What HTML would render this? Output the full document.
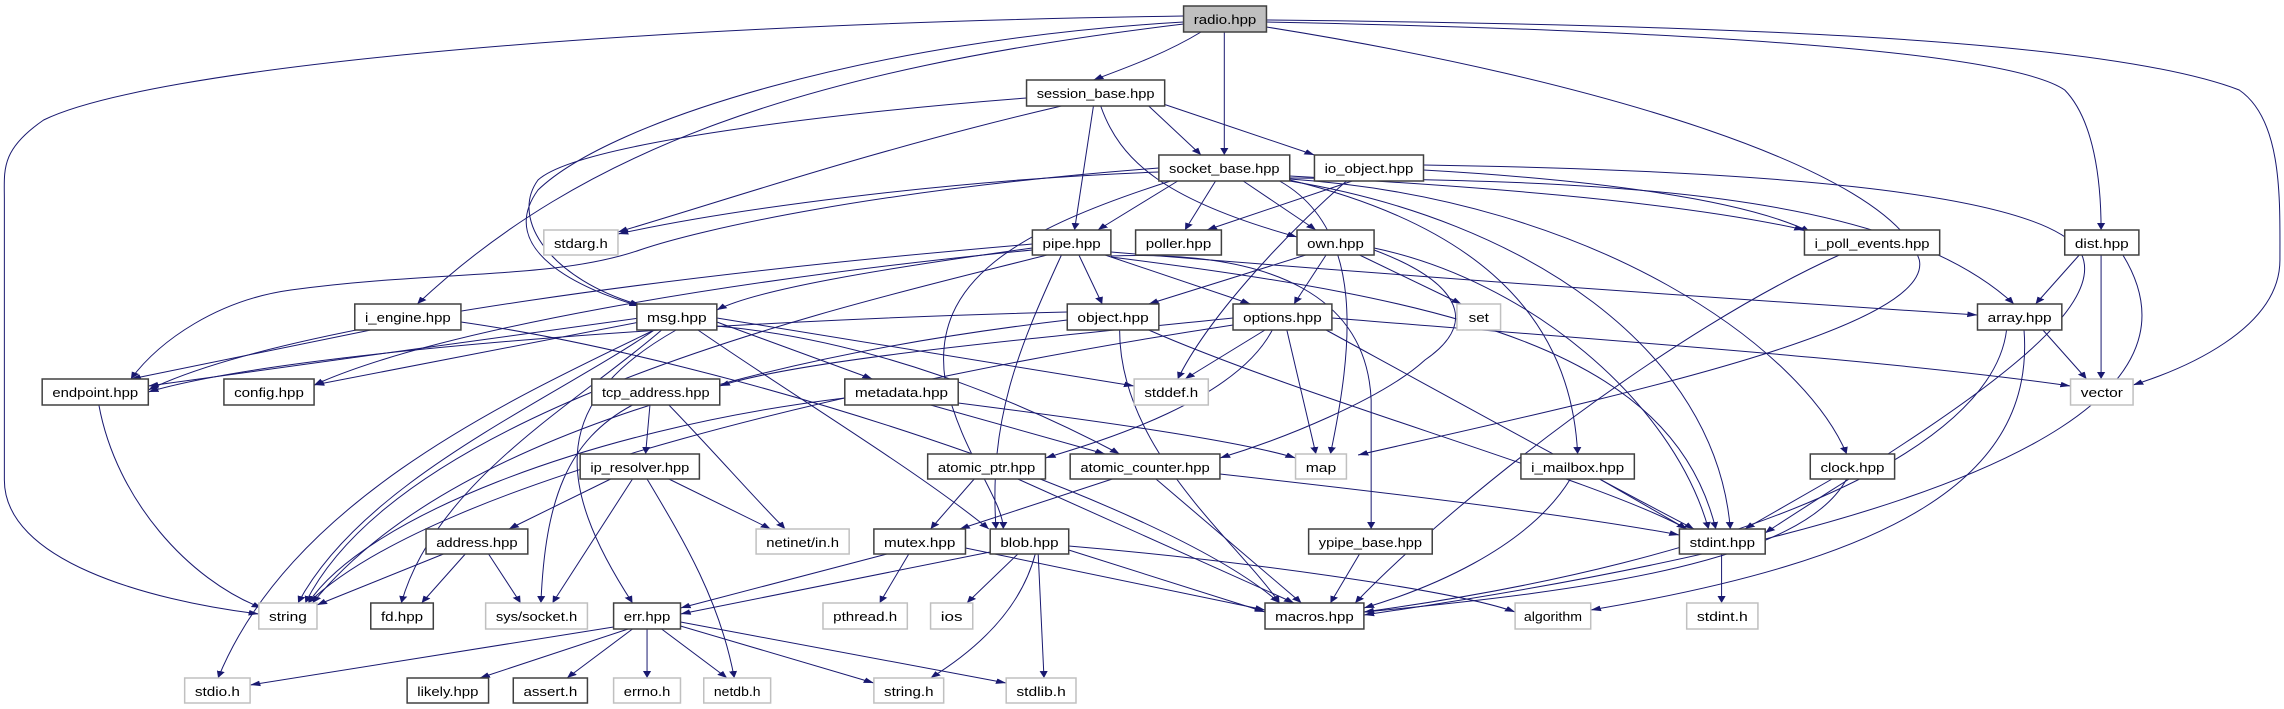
<!DOCTYPE html>
<html><head><meta charset="utf-8"><style>
html,body{margin:0;padding:0;background:#fff;}
svg{display:block;}
text{font-family:"Liberation Sans",sans-serif;font-size:13px;fill:#000;}
.e{fill:none;stroke:#191970;stroke-width:1;vector-effect:non-scaling-stroke;marker-end:url(#a);}
.n{fill:#fff;stroke:#404040;stroke-width:1.5;vector-effect:non-scaling-stroke;}
.g{fill:#fff;stroke:#c0c0c0;stroke-width:1.5;vector-effect:non-scaling-stroke;}
</style></head><body>
<svg width="2284" height="709" viewBox="0 0 1570.8 709" preserveAspectRatio="none" xmlns="http://www.w3.org/2000/svg">
<defs><marker id="a" viewBox="0 0 10 8" refX="10" refY="4" markerWidth="7" markerHeight="8" markerUnits="userSpaceOnUse" orient="auto"><path d="M0,0 L10,4 L0,8 z" fill="#191970"/></marker></defs>
<g>
<path class="e" d="M826,32 C800,55 770,70 752,80"/>
<path class="e" d="M842,32 L842,155"/>
<path class="e" d="M871,22 C1150,30 1380,50 1420,90 C1440,120 1445,180 1445,230"/>
<path class="e" d="M871,20 C1200,25 1450,40 1540,90 C1570,120 1568,200 1568,260 C1568,330 1500,370 1467,385"/>
<path class="e" d="M871,27 C1100,80 1300,170 1320,260 C1330,330 1100,400 934,455"/>
<path class="e" d="M814,22 C600,40 420,120 370,190 C340,250 400,290 440,306"/>
<path class="e" d="M814,24 C550,70 400,150 287,304"/>
<path class="e" d="M814,16 C400,25 100,70 30,120 C0,150 3,170 3,200 L3,480 C3,560 100,600 178,614"/>
<path class="e" d="M790,106 L826,155"/>
<path class="e" d="M800,104 L904,155"/>
<path class="e" d="M752,106 L739,230"/>
<path class="e" d="M757,106 C770,160 800,200 892,237"/>
<path class="e" d="M730,106 C600,150 500,200 425,232"/>
<path class="e" d="M706,98 C600,110 400,140 370,180 C350,220 380,280 440,305"/>
<path class="e" d="M810,181 L755,230"/>
<path class="e" d="M836,181 L815,230"/>
<path class="e" d="M855,181 L905,230"/>
<path class="e" d="M887,176 C1000,185 1150,200 1241,230"/>
<path class="e" d="M887,178 C1100,180 1300,190 1385,304"/>
<path class="e" d="M797,172 C650,180 500,210 425,234"/>
<path class="e" d="M797,168 C600,190 480,230 440,250 C380,280 300,270 200,290 C150,300 110,340 90,379"/>
<path class="e" d="M805,181 C700,230 640,280 650,380 C660,450 690,500 690,529"/>
<path class="e" d="M880,181 C940,230 930,350 915,454"/>
<path class="e" d="M887,180 C1000,220 1080,300 1085,454"/>
<path class="e" d="M887,179 C1100,200 1240,350 1270,454"/>
<path class="e" d="M887,181 C1050,220 1180,350 1190,529"/>
<path class="e" d="M930,181 L830,230"/>
<path class="e" d="M979,170 C1100,180 1200,200 1245,232"/>
<path class="e" d="M926,181 C880,240 830,320 810,379"/>
<path class="e" d="M979,165 C1200,170 1400,190 1430,250 C1460,320 1300,450 1214,533"/>
<path class="e" d="M742,255 L758,304"/>
<path class="e" d="M760,255 L860,304"/>
<path class="e" d="M710,248 C600,270 520,290 493,310"/>
<path class="e" d="M764,252 C1000,280 1200,300 1360,315"/>
<path class="e" d="M764,256 C880,250 940,300 943,400 L943,529"/>
<path class="e" d="M730,255 C700,350 680,420 685,529"/>
<path class="e" d="M764,257 C1000,300 1150,350 1180,529"/>
<path class="e" d="M710,244 C500,270 200,320 102,390"/>
<path class="e" d="M710,250 C500,280 300,330 216,385"/>
<path class="e" d="M720,255 C600,300 280,400 210,603"/>
<path class="e" d="M898,255 L790,304"/>
<path class="e" d="M912,255 L890,304"/>
<path class="e" d="M935,255 L1005,304"/>
<path class="e" d="M945,250 C1000,280 1020,320 980,360 C950,400 880,440 839,458"/>
<path class="e" d="M945,248 C1050,280 1150,400 1175,529"/>
<path class="e" d="M1265,255 C1150,330 1000,500 932,603"/>
<path class="e" d="M1430,255 L1400,304"/>
<path class="e" d="M1445,255 L1445,379"/>
<path class="e" d="M1460,255 C1500,350 1480,500 938,615"/>
<path class="e" d="M1405,330 L1435,379"/>
<path class="e" d="M1380,330 C1370,450 1200,560 938,612"/>
<path class="e" d="M1392,330 C1400,480 1300,560 1094,610"/>
<path class="e" d="M255,330 L90,379"/>
<path class="e" d="M317,322 C500,360 800,500 880,603"/>
<path class="e" d="M440,322 L216,385"/>
<path class="e" d="M440,318 L102,386"/>
<path class="e" d="M493,322 L600,379"/>
<path class="e" d="M493,326 C600,340 700,400 770,454"/>
<path class="e" d="M493,318 L780,386"/>
<path class="e" d="M450,330 C380,400 250,480 205,603"/>
<path class="e" d="M455,330 C400,400 300,480 276,603"/>
<path class="e" d="M465,330 C380,400 380,480 435,603"/>
<path class="e" d="M450,330 C350,400 200,500 150,678"/>
<path class="e" d="M480,330 C550,400 630,470 680,529"/>
<path class="e" d="M734,312 C500,320 200,350 102,392"/>
<path class="e" d="M734,320 C500,360 300,450 215,603"/>
<path class="e" d="M790,330 C900,400 1100,480 1160,529"/>
<path class="e" d="M770,330 C770,450 850,540 880,603"/>
<path class="e" d="M848,318 C700,340 550,360 495,386"/>
<path class="e" d="M870,330 L815,379"/>
<path class="e" d="M885,330 L905,454"/>
<path class="e" d="M875,330 C850,400 760,440 719,458"/>
<path class="e" d="M916,318 C1100,340 1300,360 1424,386"/>
<path class="e" d="M912,330 C1000,400 1100,480 1165,529"/>
<path class="e" d="M848,325 C600,380 300,480 212,603"/>
<path class="e" d="M68,405 C80,500 130,580 180,608"/>
<path class="e" d="M447,405 L444,454"/>
<path class="e" d="M435,405 C390,440 375,500 372,603"/>
<path class="e" d="M460,405 C490,450 520,500 540,529"/>
<path class="e" d="M581,398 C400,430 250,520 212,603"/>
<path class="e" d="M659,403 C750,420 850,440 891,458"/>
<path class="e" d="M640,405 L760,454"/>
<path class="e" d="M420,479 L350,529"/>
<path class="e" d="M435,479 L380,603"/>
<path class="e" d="M460,479 L530,529"/>
<path class="e" d="M445,479 C470,540 495,600 505,678"/>
<path class="e" d="M305,554 L218,605"/>
<path class="e" d="M320,554 L290,603"/>
<path class="e" d="M336,554 L358,603"/>
<path class="e" d="M670,479 L640,529"/>
<path class="e" d="M700,479 L890,603"/>
<path class="e" d="M765,479 L660,529"/>
<path class="e" d="M795,479 L895,603"/>
<path class="e" d="M839,474 C1000,500 1100,520 1155,535"/>
<path class="e" d="M1100,479 L1160,529"/>
<path class="e" d="M1080,479 C1050,550 980,590 938,608"/>
<path class="e" d="M1260,479 L1200,529"/>
<path class="e" d="M1270,479 C1240,560 1100,590 938,612"/>
<path class="e" d="M610,554 L468,608"/>
<path class="e" d="M625,554 L605,603"/>
<path class="e" d="M664,548 L870,610"/>
<path class="e" d="M681,552 L468,614"/>
<path class="e" d="M700,554 L665,603"/>
<path class="e" d="M712,554 C700,620 660,660 640,678"/>
<path class="e" d="M714,554 L718,678"/>
<path class="e" d="M735,550 L870,612"/>
<path class="e" d="M735,546 C850,560 1000,590 1042,612"/>
<path class="e" d="M935,554 L915,603"/>
<path class="e" d="M1184,554 L1184,603"/>
<path class="e" d="M422,627 L172,685"/>
<path class="e" d="M432,629 L330,678"/>
<path class="e" d="M435,629 L390,678"/>
<path class="e" d="M445,629 L445,678"/>
<path class="e" d="M455,629 L500,678"/>
<path class="e" d="M468,626 L601,683"/>
<path class="e" d="M468,622 L692,683"/>
</g>
<g>
<rect x="814" y="6" width="57" height="26" style="fill:#bfbfbf;stroke:#404040;stroke-width:1.5" vector-effect="non-scaling-stroke"/><text x="842.5" y="24" text-anchor="middle" textLength="43" lengthAdjust="spacingAndGlyphs">radio.hpp</text>
<rect class="n" x="706" y="80" width="95" height="26"/><text x="753.5" y="98" text-anchor="middle" textLength="81" lengthAdjust="spacingAndGlyphs">session_base.hpp</text>
<rect class="n" x="797" y="155" width="90" height="26"/><text x="842" y="173" text-anchor="middle" textLength="76" lengthAdjust="spacingAndGlyphs">socket_base.hpp</text>
<rect class="n" x="904" y="155" width="75" height="26"/><text x="941.5" y="173" text-anchor="middle" textLength="61" lengthAdjust="spacingAndGlyphs">io_object.hpp</text>
<rect class="n" x="710" y="230" width="54" height="25"/><text x="737" y="248" text-anchor="middle" textLength="40" lengthAdjust="spacingAndGlyphs">pipe.hpp</text>
<rect class="n" x="781" y="230" width="59" height="25"/><text x="810.5" y="248" text-anchor="middle" textLength="45" lengthAdjust="spacingAndGlyphs">poller.hpp</text>
<rect class="n" x="892" y="230" width="53" height="25"/><text x="918.5" y="248" text-anchor="middle" textLength="39" lengthAdjust="spacingAndGlyphs">own.hpp</text>
<rect class="n" x="1241" y="230" width="93" height="25"/><text x="1287.5" y="248" text-anchor="middle" textLength="79" lengthAdjust="spacingAndGlyphs">i_poll_events.hpp</text>
<rect class="n" x="1420" y="230" width="51" height="25"/><text x="1445.5" y="248" text-anchor="middle" textLength="37" lengthAdjust="spacingAndGlyphs">dist.hpp</text>
<rect class="g" x="374" y="230" width="51" height="25"/><text x="399.5" y="248" text-anchor="middle" textLength="37" lengthAdjust="spacingAndGlyphs">stdarg.h</text>
<rect class="n" x="244" y="304" width="73" height="26"/><text x="280.5" y="322" text-anchor="middle" textLength="59" lengthAdjust="spacingAndGlyphs">i_engine.hpp</text>
<rect class="n" x="438" y="304" width="55" height="26"/><text x="465.5" y="322" text-anchor="middle" textLength="41" lengthAdjust="spacingAndGlyphs">msg.hpp</text>
<rect class="n" x="734" y="304" width="63" height="26"/><text x="765.5" y="322" text-anchor="middle" textLength="49" lengthAdjust="spacingAndGlyphs">object.hpp</text>
<rect class="n" x="848" y="304" width="68" height="26"/><text x="882" y="322" text-anchor="middle" textLength="54" lengthAdjust="spacingAndGlyphs">options.hpp</text>
<rect class="g" x="1002" y="304" width="30" height="26"/><text x="1017" y="322" text-anchor="middle" textLength="14" lengthAdjust="spacingAndGlyphs">set</text>
<rect class="n" x="1360" y="304" width="58" height="26"/><text x="1389" y="322" text-anchor="middle" textLength="44" lengthAdjust="spacingAndGlyphs">array.hpp</text>
<rect class="n" x="29" y="379" width="73" height="26"/><text x="65.5" y="397" text-anchor="middle" textLength="59" lengthAdjust="spacingAndGlyphs">endpoint.hpp</text>
<rect class="n" x="154" y="379" width="62" height="26"/><text x="185" y="397" text-anchor="middle" textLength="48" lengthAdjust="spacingAndGlyphs">config.hpp</text>
<rect class="n" x="407" y="379" width="88" height="26"/><text x="451" y="397" text-anchor="middle" textLength="74" lengthAdjust="spacingAndGlyphs">tcp_address.hpp</text>
<rect class="n" x="581" y="379" width="78" height="26"/><text x="620" y="397" text-anchor="middle" textLength="64" lengthAdjust="spacingAndGlyphs">metadata.hpp</text>
<rect class="g" x="780" y="379" width="51" height="26"/><text x="805.5" y="397" text-anchor="middle" textLength="37" lengthAdjust="spacingAndGlyphs">stddef.h</text>
<rect class="g" x="1424" y="379" width="43" height="26"/><text x="1445.5" y="397" text-anchor="middle" textLength="29" lengthAdjust="spacingAndGlyphs">vector</text>
<rect class="n" x="399" y="454" width="82" height="25"/><text x="440" y="472" text-anchor="middle" textLength="68" lengthAdjust="spacingAndGlyphs">ip_resolver.hpp</text>
<rect class="n" x="638" y="454" width="81" height="25"/><text x="678.5" y="472" text-anchor="middle" textLength="67" lengthAdjust="spacingAndGlyphs">atomic_ptr.hpp</text>
<rect class="n" x="736" y="454" width="103" height="25"/><text x="787.5" y="472" text-anchor="middle" textLength="89" lengthAdjust="spacingAndGlyphs">atomic_counter.hpp</text>
<rect class="g" x="891" y="454" width="35" height="25"/><text x="908.5" y="472" text-anchor="middle" textLength="21" lengthAdjust="spacingAndGlyphs">map</text>
<rect class="n" x="1046" y="454" width="78" height="25"/><text x="1085" y="472" text-anchor="middle" textLength="64" lengthAdjust="spacingAndGlyphs">i_mailbox.hpp</text>
<rect class="n" x="1245" y="454" width="58" height="25"/><text x="1274" y="472" text-anchor="middle" textLength="44" lengthAdjust="spacingAndGlyphs">clock.hpp</text>
<rect class="n" x="293" y="529" width="70" height="25"/><text x="328" y="547" text-anchor="middle" textLength="56" lengthAdjust="spacingAndGlyphs">address.hpp</text>
<rect class="g" x="520" y="529" width="64" height="25"/><text x="552" y="547" text-anchor="middle" textLength="50" lengthAdjust="spacingAndGlyphs">netinet/in.h</text>
<rect class="n" x="601" y="529" width="63" height="25"/><text x="632.5" y="547" text-anchor="middle" textLength="49" lengthAdjust="spacingAndGlyphs">mutex.hpp</text>
<rect class="n" x="681" y="529" width="54" height="25"/><text x="708" y="547" text-anchor="middle" textLength="40" lengthAdjust="spacingAndGlyphs">blob.hpp</text>
<rect class="n" x="900" y="529" width="85" height="25"/><text x="942.5" y="547" text-anchor="middle" textLength="71" lengthAdjust="spacingAndGlyphs">ypipe_base.hpp</text>
<rect class="n" x="1155" y="529" width="59" height="25"/><text x="1184.5" y="547" text-anchor="middle" textLength="45" lengthAdjust="spacingAndGlyphs">stdint.hpp</text>
<rect class="g" x="178" y="603" width="40" height="26"/><text x="198" y="621" text-anchor="middle" textLength="26" lengthAdjust="spacingAndGlyphs">string</text>
<rect class="n" x="255" y="603" width="43" height="26"/><text x="276.5" y="621" text-anchor="middle" textLength="29" lengthAdjust="spacingAndGlyphs">fd.hpp</text>
<rect class="g" x="334" y="603" width="70" height="26"/><text x="369" y="621" text-anchor="middle" textLength="56" lengthAdjust="spacingAndGlyphs">sys/socket.h</text>
<rect class="n" x="422" y="603" width="46" height="26"/><text x="445" y="621" text-anchor="middle" textLength="32" lengthAdjust="spacingAndGlyphs">err.hpp</text>
<rect class="g" x="566" y="603" width="58" height="26"/><text x="595" y="621" text-anchor="middle" textLength="44" lengthAdjust="spacingAndGlyphs">pthread.h</text>
<rect class="g" x="640" y="603" width="29" height="26"/><text x="654.5" y="621" text-anchor="middle" textLength="15" lengthAdjust="spacingAndGlyphs">ios</text>
<rect class="n" x="870" y="603" width="68" height="26"/><text x="904" y="621" text-anchor="middle" textLength="54" lengthAdjust="spacingAndGlyphs">macros.hpp</text>
<rect class="g" x="1042" y="603" width="52" height="26"/><text x="1068" y="621" text-anchor="middle" textLength="40" lengthAdjust="spacingAndGlyphs">algorithm</text>
<rect class="g" x="1160" y="603" width="49" height="26"/><text x="1184.5" y="621" text-anchor="middle" textLength="35" lengthAdjust="spacingAndGlyphs">stdint.h</text>
<rect class="g" x="127" y="678" width="45" height="25"/><text x="149.5" y="696" text-anchor="middle" textLength="31" lengthAdjust="spacingAndGlyphs">stdio.h</text>
<rect class="n" x="280" y="678" width="56" height="25"/><text x="308" y="696" text-anchor="middle" textLength="42" lengthAdjust="spacingAndGlyphs">likely.hpp</text>
<rect class="n" x="353" y="678" width="51" height="25"/><text x="378.5" y="696" text-anchor="middle" textLength="37" lengthAdjust="spacingAndGlyphs">assert.h</text>
<rect class="g" x="422" y="678" width="46" height="25"/><text x="445" y="696" text-anchor="middle" textLength="32" lengthAdjust="spacingAndGlyphs">errno.h</text>
<rect class="g" x="484" y="678" width="46" height="25"/><text x="507" y="696" text-anchor="middle" textLength="32" lengthAdjust="spacingAndGlyphs">netdb.h</text>
<rect class="g" x="601" y="678" width="48" height="25"/><text x="625" y="696" text-anchor="middle" textLength="34" lengthAdjust="spacingAndGlyphs">string.h</text>
<rect class="g" x="692" y="678" width="48" height="25"/><text x="716" y="696" text-anchor="middle" textLength="34" lengthAdjust="spacingAndGlyphs">stdlib.h</text>
</g>
</svg>
</body></html>
